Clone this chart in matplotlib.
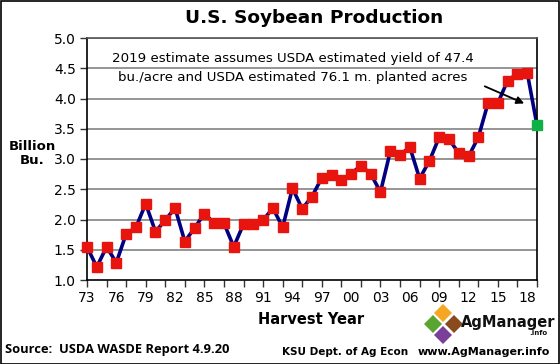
import matplotlib
matplotlib.use("Agg")
import matplotlib.pyplot as plt
from matplotlib.patches import Polygon, Rectangle

years = list(range(1973, 2020))
production = [1.548, 1.216, 1.547, 1.288, 1.762, 1.869, 2.261, 1.798, 1.989, 2.190,
              1.636, 1.861, 2.099, 1.940, 1.938, 1.549, 1.924, 1.926, 1.987, 2.190,
              1.871, 2.517, 2.177, 2.380, 2.689, 2.741, 2.654, 2.758, 2.891, 2.756,
              2.454, 3.124, 3.068, 3.197, 2.677, 2.967, 3.359, 3.329, 3.097, 3.042,
              3.357, 3.927, 3.926, 4.296, 4.412, 4.428, 3.558]
y_ticks = [1.0, 1.5, 2.0, 2.5, 3.0, 3.5, 4.0, 4.5, 5.0]
label_years = list(range(1973, 2019, 3))

W, H = 560, 364
fig = plt.figure(figsize=(W / 100, H / 100), dpi=100)
fig.patch.set_facecolor("white")

def fx(px):
    return px / W

def fy(py):
    return 1 - py / H

ax = fig.add_axes([fx(87), fy(280), fx(537) - fx(87), fy(38) - fy(280)])
for y in y_ticks[1:]:
    ax.axhline(y, color="#8c8c8c", lw=1.3, zorder=1)

ax.plot(years[:-1], production[:-1], color="#000080", lw=2.6, zorder=3,
        marker="s", markersize=6.8, markerfacecolor="#e8150f", markeredgecolor="#e8150f",
        clip_on=False)
ax.plot(years[-2:], production[-2:], color="#000080", lw=2.6, zorder=2, clip_on=False)
ax.plot(years[-1:], production[-1:], ls="none", marker="s", markersize=7.8,
        markerfacecolor="#10b048", markeredgecolor="#10b048", zorder=4, clip_on=False)

ax.set_xlim(1973, 2019)
ax.set_ylim(1.0, 5.0)
ax.set_yticks(y_ticks)
ax.set_yticklabels([f"{v:.1f}" for v in y_ticks])
ax.xaxis.remove_overlapping_locs = False
ax.set_xticks(list(range(1973, 2020, 2)))
ax.set_xticklabels([])
ax.set_xticks(label_years, minor=True)
ax.set_xticklabels([f"{y % 100:02d}" for y in label_years], minor=True)
ax.tick_params(axis="x", which="major", direction="out", length=5, width=1, color="#333333")
ax.tick_params(axis="x", which="minor", length=0, pad=8, labelsize=10)
ax.tick_params(axis="y", direction="out", length=5, width=1, color="#333333", labelsize=10, pad=3)
for s in ["left", "bottom", "right"]:
    ax.spines[s].set_color("black")
    ax.spines[s].set_linewidth(1.2)
ax.spines["top"].set_color("#555555")
ax.spines["top"].set_linewidth(1.2)

fig.text(fx(314), fy(18), "U.S. Soybean Production", ha="center", va="center",
         fontsize=13.3, fontweight="bold")
fig.text(fx(32), fy(153), "Billion\nBu.", ha="center", va="center", fontsize=9.5,
         fontweight="bold", linespacing=1.1)
fig.text(fx(311), fy(319), "Harvest Year", ha="center", va="center", fontsize=10.5,
         fontweight="bold")
fig.text(fx(293), fy(68),
         "2019 estimate assumes USDA estimated yield of 47.4\nbu./acre and USDA estimated 76.1 m. planted acres",
         ha="center", va="center", fontsize=9.6, linespacing=1.55)
ax.annotate("", xy=(2017.95, 3.90), xytext=(2013.4, 4.22),
            arrowprops=dict(arrowstyle="-|>", color="black", lw=1.3, mutation_scale=11))

fig.text(fx(5), fy(350), "Source:  USDA WASDE Report 4.9.20", ha="left", va="center",
         fontsize=9.3, fontweight="bold", family="Open Sans")
fig.text(fx(345), fy(352), "KSU Dept. of Ag Econ", ha="center", va="center",
         fontsize=7.5, fontweight="bold")
fig.text(fx(484), fy(352), "www.AgManager.info", ha="center", va="center",
         fontsize=8, fontweight="bold")

# logo
def diamond(cx, cy, r, color):
    pts = [(fx(cx), fy(cy - r)), (fx(cx + r), fy(cy)), (fx(cx), fy(cy + r)), (fx(cx - r), fy(cy))]
    fig.patches.append(Polygon(pts, closed=True, transform=fig.transFigure,
                               facecolor=color, edgecolor="white", lw=1))

diamond(443, 313, 10, "#f5a623")
diamond(433, 324, 10, "#5aa532")
diamond(454, 324, 10, "#8b4a1c")
diamond(443, 335, 10, "#7b3f9a")
fig.text(fx(508), fy(322), "AgManager", ha="center", va="center", fontsize=10.5,
         fontweight="bold", color="#111111")
fig.text(fx(538), fy(333), ".info", ha="center", va="center", fontsize=5,
         fontweight="bold", color="#111111")

fig.patches.append(Rectangle((0.001, 0.001), 0.997, 0.996, transform=fig.transFigure,
                             fill=False, edgecolor="black", lw=1.2))

fig.savefig("out.png", dpi=100)
